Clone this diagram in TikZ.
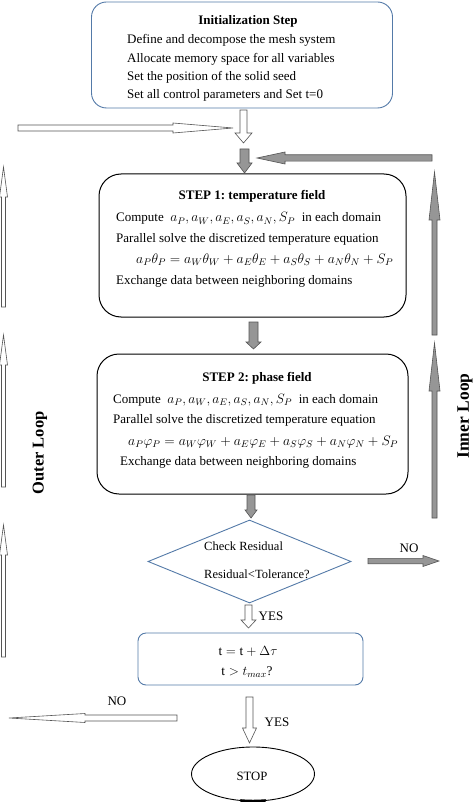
\RequirePackage{fix-cm}
\documentclass[tikz,border=0pt]{standalone}
\usepackage{fontspec}
\setmainfont{Liberation Serif}
\frenchspacing
\usetikzlibrary{shapes.geometric}
\definecolor{bluebd}{RGB}{84,122,168}
\definecolor{grayfill}{RGB}{150,150,150}
\definecolor{graybd}{RGB}{85,85,85}
\newcommand{\barrow}[7]{%
  \begin{scope}[shift={#2},rotate=#3]
  \draw[#1] (0,-#5) -- ({#4-#7},-#5) -- ({#4-#7},-#6) -- (#4,0) -- ({#4-#7},#6) -- ({#4-#7},#5) -- (0,#5) -- cycle;
  \end{scope}}
\begin{document}
\begin{tikzpicture}[x=1pt,y=-1pt,
  txt/.style={anchor=base west,inner sep=0pt,font=\fontsize{13}{15}\selectfont},
  eqn/.style={anchor=base west,inner sep=0pt,font=\fontsize{13.8}{15}\selectfont},
  ttl/.style={anchor=base,inner sep=0pt,font=\fontsize{13}{15}\selectfont\bfseries},
  lbl/.style={anchor=base,inner sep=0pt,font=\fontsize{12.7}{15}\selectfont},
  initbox/.style={draw=bluebd,line width=0.9pt,rounded corners=15pt,minimum width=301pt,minimum height=106pt,inner sep=0pt},
  stepbox/.style={draw=black,line width=1pt,rounded corners=22pt,inner sep=0pt},
  tbox/.style={draw=bluebd,line width=0.9pt,rounded corners=8pt,minimum width=225pt,minimum height=52pt,inner sep=0pt},
  dia/.style={draw=bluebd,line width=0.9pt,diamond,minimum width=203pt,minimum height=83pt,inner sep=0pt},
  stopnode/.style={draw=black,line width=0.9pt,ellipse,minimum width=123pt,minimum height=54pt,inner sep=0pt},
  wa/.style={draw=graybd,fill=white,line width=0.6pt},
  ga/.style={draw=graybd,fill=grayfill,line width=0.6pt},
  loopl/.style={inner sep=0pt,rotate=90,font=\bfseries}
]
\useasboundingbox (0,0) rectangle (474,802);
\fill[white] (0,0) rectangle (474,802);

% Initialization box
\node[initbox] (init) at (242,55) {};
\node[ttl] (initT) at (248,25) {Initialization Step};
\node[txt] (i1) at (127,44) {Define and decompose the mesh system};
\node[txt] (i2) at (127,63) {Allocate memory space for all variables};
\node[txt] (i3) at (127,81) {Set the position of the solid seed};
\node[txt] (i4) at (127,99) {Set all control parameters and Set t=0};

% Step 1
\node[stepbox,minimum width=307pt,minimum height=143pt] (s1) at (252.5,245.5) {};
\node[ttl] (s1T) at (252,200) {STEP 1: temperature field};
\node[txt] (s1a) at (116,222) {Compute \ {\fontsize{13.6}{15}\selectfont$a_P, a_W, a_E, a_S, a_N, S_P$} \ in each domain};
\node[txt] (s1b) at (116,242) {Parallel solve the discretized temperature equation};
\node[eqn] (s1c) at (136,263) {$a_P\theta_P = a_W\theta_W + a_E\theta_E + a_S\theta_S + a_N\theta_N + S_P$};
\node[txt] (s1d) at (116,284) {Exchange data between neighboring domains};

% Step 2
\node[stepbox,minimum width=311pt,minimum height=140pt] (s2) at (252.5,424) {};
\node[ttl] (s2T) at (257,381) {STEP 2: phase field};
\node[txt] (s2a) at (113,403) {Compute \ {\fontsize{13.6}{15}\selectfont$a_P, a_W, a_E, a_S, a_N, S_P$} \ in each domain};
\node[txt] (s2b) at (113,423) {Parallel solve the discretized temperature equation};
\node[eqn] (s2c) at (128,445) {$a_P\varphi_P = a_W\varphi_W + a_E\varphi_E + a_S\varphi_S + a_N\varphi_N + S_P$};
\node[txt] (s2d) at (120,465) {Exchange data between neighboring domains};

% Diamond
\node[dia] (chk) at (249.5,561.5) {};
\node[txt,font=\fontsize{12.5}{15}\selectfont] (c1) at (204,550) {Check Residual};
\node[txt,font=\fontsize{12.5}{15}\selectfont] (c2) at (204,578) {Residual<Tolerance?};

% time box
\node[tbox] (tb) at (250.5,659) {};
\node[lbl,font=\fontsize{13.3}{15}\selectfont] (t1) at (248,655) {$\mathrm{t} = \mathrm{t} + \Delta\mathrm{\tau}$};
\node[lbl,font=\fontsize{13.3}{15}\selectfont] (t2) at (247,675) {$\mathrm{t} > t_{max}$?};

% Stop
\node[stopnode] (stop) at (253,774) {};
\draw[line width=2.5pt] (stop.center) ++(258:61.5pt and 27pt) arc (258:282:61.5pt and 27pt);
\node[lbl] (stopT) at (252,780) {STOP};

% labels
\node[lbl,font=\fontsize{13}{15}\selectfont] (no1) at (409,552) {NO};
\node[lbl,font=\fontsize{13}{15}\selectfont] (yes1) at (271,620) {YES};
\node[lbl,font=\fontsize{13}{15}\selectfont] (no2) at (117,705) {NO};
\node[lbl,font=\fontsize{13}{15}\selectfont] (yes2) at (277,726) {YES};
\node[loopl,font=\fontsize{16.5}{18}\selectfont\bfseries] (outer) at (40,453) {Outer Loop};
\node[loopl,font=\fontsize{17.5}{18}\selectfont\bfseries] (inner) at (465,416) {Inner Loop};

% block arrows
\barrow{wa}{(243.5,110)}{-90}{33}{3.5}{8.5}{10}
\barrow{wa}{(18,128)}{0}{215}{3}{5}{60}
\barrow{ga}{(244.5,149)}{-90}{24}{4.5}{7.5}{10}
\barrow{ga}{(432,158)}{180}{175}{3.2}{6}{28}
\barrow{ga}{(253.5,322)}{-90}{27}{4.5}{7.5}{7}
\barrow{ga}{(251,495)}{-90}{23}{4}{6}{8}
\barrow{ga}{(368,561)}{0}{71}{2.7}{5.5}{16}
\barrow{wa}{(248.5,605)}{-90}{23}{3.5}{7.5}{8}
\barrow{wa}{(177,718)}{180}{168}{3}{4.5}{76}
\barrow{wa}{(249.5,697)}{-90}{46}{3.5}{7}{15}
\barrow{wa}{(3.5,307)}{90}{140}{2}{4}{30}
\barrow{wa}{(3.5,487)}{90}{152}{2}{4}{30}
\barrow{wa}{(3.5,657)}{90}{132}{2}{4}{30}
\barrow{ga}{(434.5,335)}{90}{163}{2.5}{5.5}{48}
\barrow{ga}{(434.5,518)}{90}{175}{2.5}{5.5}{48}
\end{tikzpicture}
\end{document}
